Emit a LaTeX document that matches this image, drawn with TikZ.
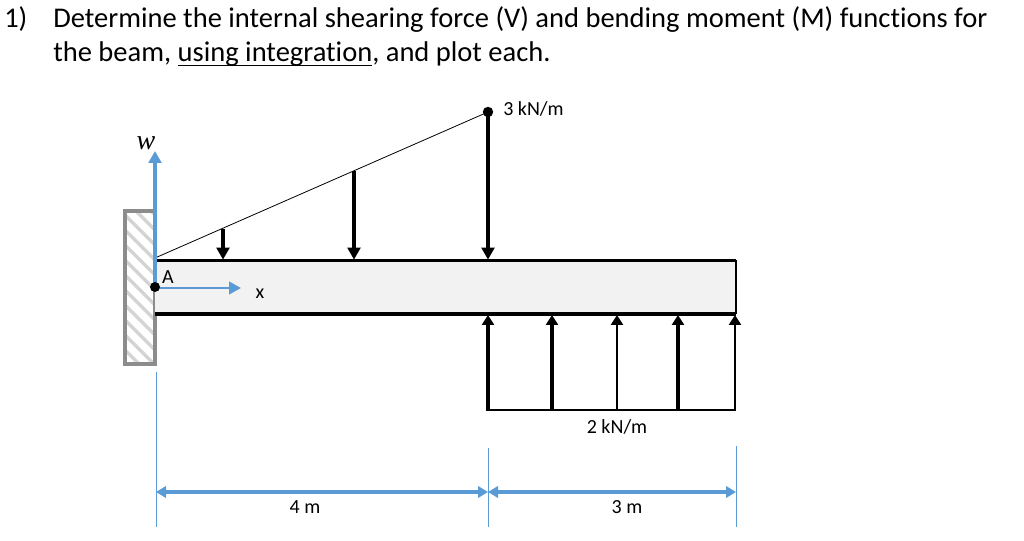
\documentclass[tikz,border=0pt]{standalone}
\usepackage{fontspec}
\setmainfont[Ligatures=NoCommon]{Carlito}
\newfontfamily\wfont{Liberation Serif}
\usetikzlibrary{arrows.meta}
\definecolor{bluel}{HTML}{5B9BD5}
\definecolor{wallgray}{HTML}{8C8C8C}
\definecolor{hatchgray}{HTML}{D4D4D4}
\definecolor{beamfill}{HTML}{F2F2F2}
\newlength{\ulw}
\newcommand{\lowline}[1]{\settowidth{\ulw}{#1}\leavevmode\rlap{\rule[-3.3pt]{\ulw}{1.3pt}}#1}
\tikzset{
  x=0.75pt,y=-0.75pt,
  title/.style={font=\fontsize{21.4pt}{25pt}\selectfont,anchor=base west,inner sep=0pt},
  lab/.style={font=\fontsize{15pt}{17pt}\selectfont,anchor=base,inner sep=0pt},
  load/.style={line width=2.3pt,-{Triangle[width=9.5pt,length=9pt]},shorten >=-0.5pt},
  loadsm/.style={-{Triangle[width=9pt,length=7.5pt]}},
  dimen/.style={bluel,line width=3pt,{Triangle[width=8.5pt,length=7.5pt]}-{Triangle[width=8.5pt,length=7.5pt]}},
  ext/.style={bluel,line width=0.65pt},
  axisarrow/.style={bluel,line width=2.3pt,-{Triangle[width=9.5pt,length=9pt]}},
}
\begin{document}
\begin{tikzpicture}
\useasboundingbox[fill=white] (0,0) rectangle (1024,541);
% title
\node[title] (t0) at (4,28) {1)};
\node[title] (t1) at (53,28) {Determine the internal shearing force (V) and bending moment (M) functions for};
\node[title] (t2) at (53,62) {the beam, \lowline{using integration}, and plot each.};
% wall
\coordinate (wtl) at (125,211); \coordinate (wbr) at (155,364);
\begin{scope}
\clip (wtl) rectangle (wbr);
\foreach \i in {-2,...,20} {
  \draw[hatchgray,line width=2.6pt] (90,{180+\i*15}) -- ++(90,90);
}
\end{scope}
\draw[wallgray,line width=2.3pt] (wtl) rectangle (wbr);
% beam
\coordinate (btl) at (155,260.5); \coordinate (bbr) at (736,314);
\fill[beamfill] (btl) rectangle (bbr);
\coordinate (btr) at (736,260.5); \coordinate (bbl) at (155,314);
\draw[line width=2.2pt] (btl) -- (btr);
\draw[line width=1.9pt] (btr) -- (bbr);
\draw[line width=2.9pt] (bbr) -- (bbl);
% triangular load
\coordinate (peak) at (488,112);
\coordinate (o) at (155,258);
\draw[line width=0.6pt] (o) -- (peak);
\fill (peak) circle (5.2);
\coordinate (d1t) at (223,229); \coordinate (d1b) at (223,259);
\coordinate (d2t) at (354,171); \coordinate (d2b) at (354,259);
\coordinate (d3b) at (488,259);
\draw[load] (d1t) -- (d1b);
\draw[load] (d2t) -- (d2b);
\draw[load] (peak) -- (d3b);
% uniform load
\coordinate (u0) at (488,410); \coordinate (u4) at (735,410);
\draw[line width=1.1pt] (u0) -- (u4);
\foreach \n/\xx/\w in {a/488/2.3pt,b/552/2.3pt,c/617/2pt,d/678/2.8pt,e/735/1.9pt} {
  \coordinate (ub\n) at (\xx,411);
  \coordinate (ut\n) at (\xx,315);
  \draw[loadsm,line width=\w] (ub\n) -- (ut\n);
}
% axes
\coordinate (A) at (155,287);
\coordinate (wtip) at (155,151);
\coordinate (xtip) at (241,288);
\coordinate (xfoot) at (155,288);
\draw[axisarrow] (A) -- (wtip);
\draw[axisarrow,line width=1.7pt] (xfoot) -- (xtip);
\fill (A) circle (5);
\node[font=\fontsize{21pt}{22pt}\selectfont\wfont\itshape,anchor=base,inner sep=0pt] (lw) at (146,150) {w};
\node[lab] (lA) at (168,284) {A};
\node[lab] (lx) at (260,299) {x};
\node[lab,anchor=base west] (l3) at (503,116) {3 kN/m};
\node[lab] (l2) at (617,433) {2 kN/m};
% dimensions
\coordinate (e1t) at (156,372); \coordinate (e1b) at (156,527);
\coordinate (e2t) at (488,448); \coordinate (e2b) at (488,527);
\coordinate (e3t) at (736,446); \coordinate (e3b) at (736,527);
\draw[ext] (e1t) -- (e1b);
\draw[ext] (e2t) -- (e2b);
\draw[ext] (e3t) -- (e3b);
\coordinate (d1) at (156,492); \coordinate (d2) at (488,492); \coordinate (d3) at (736,492);
\draw[dimen] (d1) -- (d2);
\draw[dimen] (d2) -- (d3);
\node[lab] (l4) at (305,513) {4 m};
\node[lab] (l5) at (627,513) {3 m};
\end{tikzpicture}
\end{document}
